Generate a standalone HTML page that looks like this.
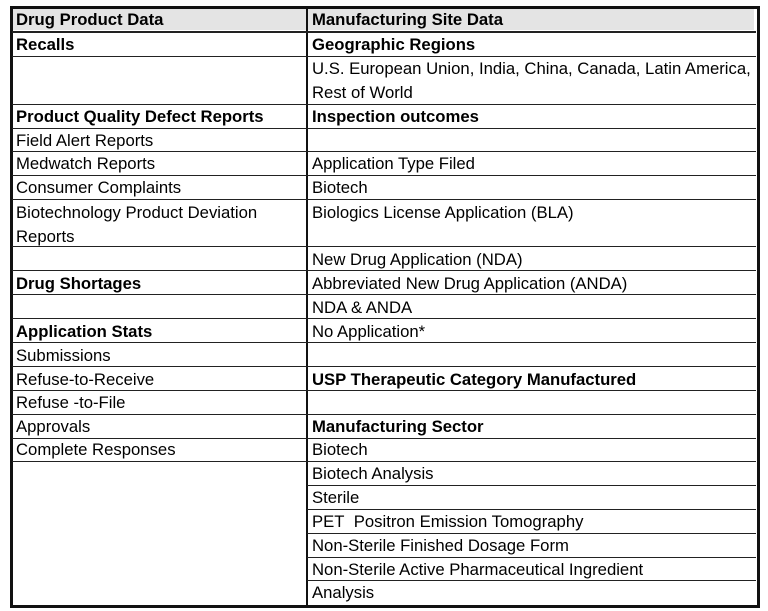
<!DOCTYPE html>
<html><head><meta charset="utf-8"><style>
html,body{margin:0;padding:0;background:#fff;}
body{width:768px;height:611px;position:relative;overflow:hidden;font-family:"Liberation Sans",Arial,sans-serif;font-size:16.7px;color:#000;}
.c{position:absolute;white-space:nowrap;line-height:24px;}
.b{font-weight:bold;}
.h{position:absolute;height:1px;background:#222;}
.v{position:absolute;width:2px;background:#111;}
</style></head><body>
<div style="position:absolute;left:11px;top:7px;width:743px;height:23px;background:#e4e4e4"></div>
<div style="position:absolute;left:10px;top:6px;width:744px;height:596px;border:3px solid #111"></div>
<div class="v" style="left:306px;top:8px;height:597px"></div>
<div class="h" style="left:12px;width:744px;top:31px;height:2px"></div>
<div class="h" style="left:12px;width:744px;top:56px"></div>
<div class="h" style="left:12px;width:744px;top:104px"></div>
<div class="h" style="left:12px;width:744px;top:128px"></div>
<div class="h" style="left:12px;width:744px;top:151px"></div>
<div class="h" style="left:12px;width:744px;top:175px"></div>
<div class="h" style="left:12px;width:744px;top:199px"></div>
<div class="h" style="left:12px;width:744px;top:246px"></div>
<div class="h" style="left:12px;width:744px;top:270px"></div>
<div class="h" style="left:12px;width:744px;top:294px"></div>
<div class="h" style="left:12px;width:744px;top:318px"></div>
<div class="h" style="left:12px;width:744px;top:342px"></div>
<div class="h" style="left:12px;width:744px;top:366px"></div>
<div class="h" style="left:12px;width:744px;top:390px"></div>
<div class="h" style="left:12px;width:744px;top:414px"></div>
<div class="h" style="left:12px;width:744px;top:438px"></div>
<div class="h" style="left:12px;width:744px;top:461px"></div>
<div class="h" style="left:307px;width:449px;top:485px"></div>
<div class="h" style="left:307px;width:449px;top:509px"></div>
<div class="h" style="left:307px;width:449px;top:533px"></div>
<div class="h" style="left:307px;width:449px;top:557px"></div>
<div class="h" style="left:307px;width:449px;top:580px"></div>

<div class="c b" style="left:16px;top:8px">Drug Product Data</div>
<div class="c b" style="left:312px;top:8px">Manufacturing Site Data</div>
<div class="c b" style="left:16px;top:33px">Recalls</div>
<div class="c b" style="left:312px;top:33px">Geographic Regions</div>
<div class="c" style="left:312px;top:57px">U.S. European Union, India, China, Canada, Latin America,</div>
<div class="c" style="left:312px;top:81px">Rest of World</div>
<div class="c b" style="left:16px;top:105px">Product Quality Defect Reports</div>
<div class="c b" style="left:312px;top:105px">Inspection outcomes</div>
<div class="c" style="left:16px;top:129px">Field Alert Reports</div>
<div class="c" style="left:16px;top:152px">Medwatch Reports</div>
<div class="c" style="left:312px;top:152px">Application Type Filed</div>
<div class="c" style="left:16px;top:176px">Consumer Complaints</div>
<div class="c" style="left:312px;top:176px">Biotech</div>
<div class="c" style="left:16px;top:201px">Biotechnology Product Deviation</div>
<div class="c" style="left:16px;top:225px">Reports</div>
<div class="c" style="left:312px;top:201px">Biologics License Application (BLA)</div>
<div class="c" style="left:312px;top:248px">New Drug Application (NDA)</div>
<div class="c b" style="left:16px;top:272px">Drug Shortages</div>
<div class="c" style="left:312px;top:272px">Abbreviated New Drug Application (ANDA)</div>
<div class="c" style="left:312px;top:296px">NDA &amp; ANDA</div>
<div class="c b" style="left:16px;top:320px">Application Stats</div>
<div class="c" style="left:312px;top:320px">No Application*</div>
<div class="c" style="left:16px;top:344px">Submissions</div>
<div class="c" style="left:16px;top:368px">Refuse-to-Receive</div>
<div class="c b" style="left:312px;top:368px">USP Therapeutic Category Manufactured</div>
<div class="c" style="left:16px;top:391px">Refuse -to-File</div>
<div class="c" style="left:16px;top:415px">Approvals</div>
<div class="c b" style="left:312px;top:415px">Manufacturing Sector</div>
<div class="c" style="left:16px;top:438px">Complete Responses</div>
<div class="c" style="left:312px;top:438px">Biotech</div>
<div class="c" style="left:312px;top:462px">Biotech Analysis</div>
<div class="c" style="left:312px;top:486px">Sterile</div>
<div class="c" style="left:312px;top:510px">PET&nbsp; Positron Emission Tomography</div>
<div class="c" style="left:312px;top:534px">Non-Sterile Finished Dosage Form</div>
<div class="c" style="left:312px;top:558px">Non-Sterile Active Pharmaceutical Ingredient</div>
<div class="c" style="left:312px;top:581px">Analysis</div>
</body></html>
